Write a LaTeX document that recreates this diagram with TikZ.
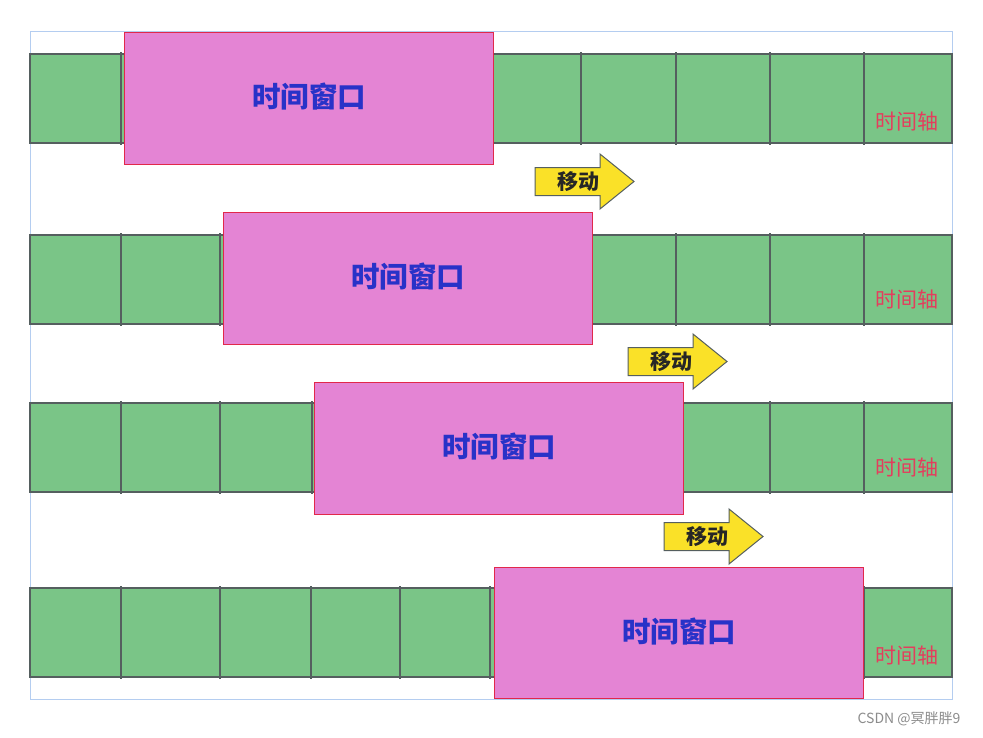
\documentclass[tikz,border=0pt]{standalone}
\usepackage{fontspec}
\newfontfamily\cjk{Noto Sans CJK SC}
\definecolor{gbar}{RGB}{122,197,135}
\definecolor{gline}{RGB}{85,95,95}
\definecolor{pwin}{RGB}{228,132,212}
\definecolor{rwin}{RGB}{225,40,75}
\definecolor{bwin}{RGB}{40,50,200}
\definecolor{yarr}{RGB}{250,225,40}
\definecolor{frame}{RGB}{180,205,240}
\tikzset{
 bar/.style={draw=gline,fill=gbar,line width=1.2pt},
 div/.style={draw=gline,line width=1.2pt},
 win/.style={draw=rwin,fill=pwin,line width=1.4pt},
 wtext/.style={text=bwin,font=\cjk\bfseries\fontsize{28.5}{30}\selectfont},
 axis/.style={text=rwin!90!white,font=\cjk\fontsize{21}{23}\selectfont},
 mvarrow/.style={draw=gline,fill=yarr,line width=1pt,line join=miter},
 mvtext/.style={font=\cjk\bfseries\fontsize{21}{23}\selectfont,text=black!85}
}
\begin{document}
\begin{tikzpicture}[x=1pt,y=-1pt]
\useasboundingbox (0,0) rectangle (983,737);
\fill[white] (0,0) rectangle (983,737);
\draw[frame,line width=0.6pt] (30,31) rectangle (952,699);
\foreach \t/\b/\divs/\wx/\wt/\wb/\ax/\ay [count=\i] in {
 54/143/{121,581,676,770,864}/124/32/164/907/122,
 235/324/{121,220,676,770,864}/223/212/344/907/300,
 403/492/{121,220,312,770,864}/314/382/514/907/468,
 588/677/{121,220,311,400,490,864}/494/567/698/907/656}{
 \path[bar] (30,\t) rectangle (952,\b);
 \foreach \d in \divs {\draw[div] (\d,\t-2) -- (\d,\b+2);}
 \node[win,minimum width=369pt,minimum height=\wb-\wt,anchor=north west,inner sep=0pt] (w\i) at (\wx,\wt) {};
 \node[wtext] (wt\i) at ([yshift=2pt]w\i.center) {时间窗口};
 \node[axis] (ax\i) at (\ax,\ay) {时间轴};
}
\foreach \x/\y [count=\i] in {535/181.5,628/361.5,664/536.5}{
 \draw[mvarrow] (\x,\y-14) -- (\x+65,\y-14) -- (\x+65,\y-27.5) -- (\x+99,\y) -- (\x+65,\y+27.5) -- (\x+65,\y+14) -- (\x,\y+14) -- cycle;
 \node[mvtext] (ml\i) at (\x+43,\y) {移动};
}
\node[text=black!45,font=\cjk\fontsize{14}{16}\selectfont] (wm) at (909,719) {CSDN @冥胖胖9};
\end{tikzpicture}
\end{document}
